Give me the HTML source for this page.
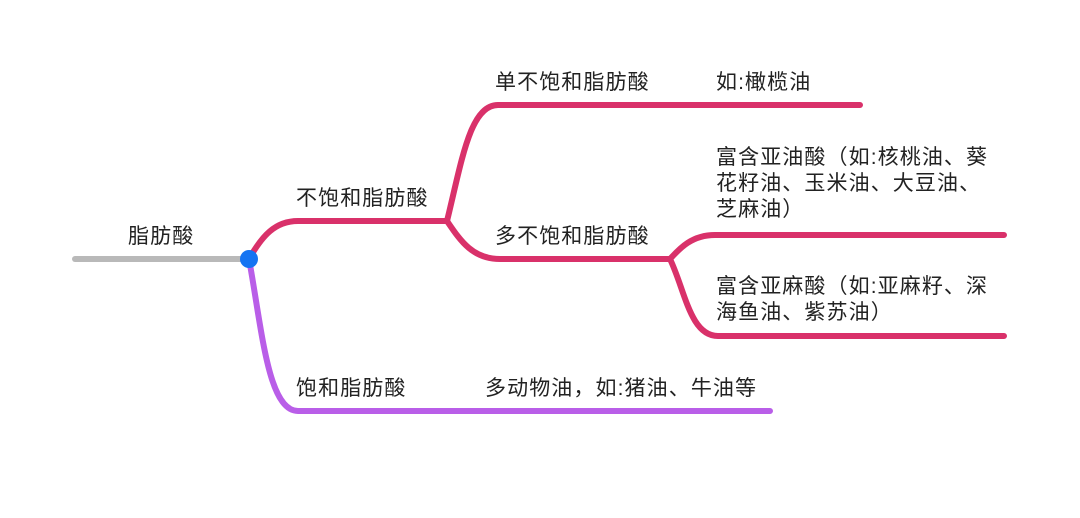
<!DOCTYPE html>
<html><head><meta charset="utf-8"><style>
body{margin:0;background:#fff;}
.c{position:relative;width:1080px;height:518px;overflow:hidden;}
svg{position:absolute;left:0;top:0;}
.t{position:absolute;font-family:"Liberation Sans","Noto Sans CJK SC",sans-serif;font-size:21px;letter-spacing:1.1px;color:#222;line-height:26px;white-space:nowrap;}
</style></head><body><div class="c">
<svg width="1080" height="518" viewBox="0 0 1080 518" fill="none" stroke-linecap="round">
<path d="M75 259 H249" stroke="#b9b9b9" stroke-width="6"/>
<path d="M249 259 C262 236 275 221 298 221 H447" stroke="#d9316a" stroke-width="6"/>
<path d="M447 221 C462 160 470 105 498 105 H860" stroke="#d9316a" stroke-width="6"/>
<path d="M447 221 C460 240 472 259 500 259 H670" stroke="#d9316a" stroke-width="6"/>
<path d="M670 259 C680 248 692 235 715 235 H1004" stroke="#d9316a" stroke-width="6"/>
<path d="M670 259 C685 290 690 336 718 336 H1004" stroke="#d9316a" stroke-width="6"/>
<path d="M249 259 C262 330 268 411 298 411 H770" stroke="#b95ee8" stroke-width="6"/>
<circle cx="249" cy="259" r="9" fill="#1574f2"/>
</svg>
<div class="t" style="left:128px;top:224px">脂肪酸</div>
<div class="t" style="left:296px;top:186px">不饱和脂肪酸</div>
<div class="t" style="left:296px;top:376px">饱和脂肪酸</div>
<div class="t" style="left:485px;top:376px">多动物油，如:猪油、牛油等</div>
<div class="t" style="left:495px;top:70px">单不饱和脂肪酸</div>
<div class="t" style="left:716px;top:70px">如:橄榄油</div>
<div class="t" style="left:495px;top:224px">多不饱和脂肪酸</div>
<div class="t" style="left:716px;top:145px">富含亚油酸（如:核桃油、葵<br>花籽油、玉米油、大豆油、<br>芝麻油）</div>
<div class="t" style="left:716px;top:274px">富含亚麻酸（如:亚麻籽、深<br>海鱼油、紫苏油）</div>
</div></body></html>
